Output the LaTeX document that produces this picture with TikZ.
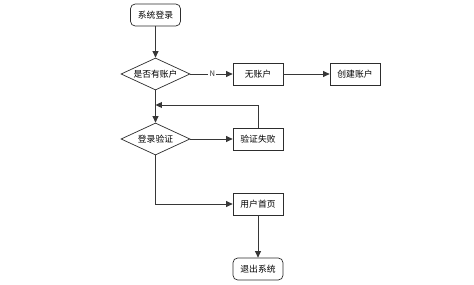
\documentclass[tikz,border=0pt]{standalone}
\usepackage{fontspec}
\setmainfont{Noto Sans CJK SC}
\usepackage{tikz}
\usetikzlibrary{shapes.geometric, arrows.meta, positioning, calc}
\definecolor{mydark}{RGB}{45,45,45}
\definecolor{myline}{RGB}{55,55,55}
\tikzset{
  block/.style={rectangle, draw=mydark, fill=white,
    minimum width=1.5cm, minimum height=0.66cm,
    font=\fontsize{7.5}{9}\selectfont, line width=0.6pt},
  termblock/.style={block, rounded corners=4pt},
  decision/.style={diamond, draw=mydark, fill=white, aspect=2.15,
    minimum width=2.07cm, minimum height=0.96cm, inner sep=0pt,
    font=\fontsize{7.5}{9}\selectfont, line width=0.6pt},
  arrow/.style={-{Triangle[length=5.5pt, width=5pt]}, line width=0.75pt, color=myline},
  line/.style={line width=0.75pt, color=myline}
}
\begin{document}
\begin{tikzpicture}[x=0.03cm, y=-0.03cm]
  \useasboundingbox[fill=white] (0,0) rectangle (474,285);
  % Nodes
  \node[termblock] (start) at (155.5, 15) {系统登录};
  \node[decision] (hasacc) at (155.5, 74) {是否有账户};
  \node[block] (noacc) at (258, 74) {无账户};
  \node[block] (create) at (355, 74) {创建账户};
  \coordinate (jn) at (155.5, 105);
  \node[decision] (login) at (155.5, 139) {登录验证};
  \node[block] (fail) at (258, 139) {验证失败};
  \node[block] (home) at (258, 204) {用户首页};
  \node[termblock] (quit) at (258, 269) {退出系统};

  % Flows
  \draw[arrow] (start) -- (hasacc);
  \draw[arrow] (hasacc.east) -- (noacc.west) node[pos=0.52, fill=white, inner sep=1pt, font=\fontsize{6.5}{7}\selectfont] {N};
  \draw[arrow] (noacc) -- (create);
  \draw[line] (hasacc.south) -- (jn);
  \draw[arrow] (fail.north) |- (jn);
  \draw[arrow] (jn) -- (login.north);
  \draw[arrow] (login.east) -- (fail.west);
  \draw[arrow] (login.south) |- (home.west);
  \draw[arrow] (home) -- (quit);
\end{tikzpicture}
\end{document}
